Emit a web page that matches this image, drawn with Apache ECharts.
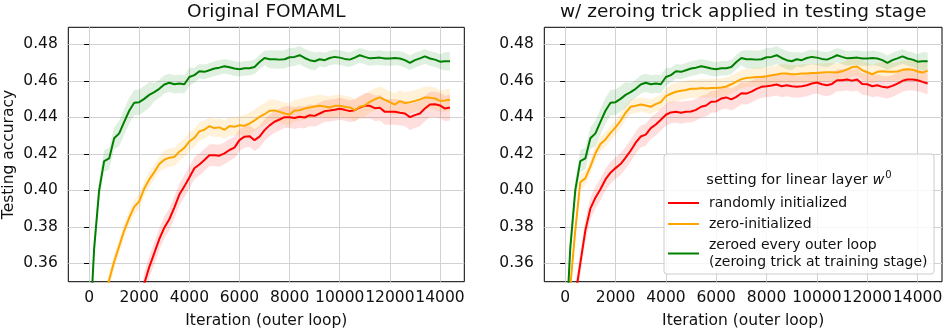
<!DOCTYPE html>
<html>
<head>
<meta charset="utf-8">
<script src="https://cdn.jsdelivr.net/npm/echarts@6/dist/echarts.min.js"></script>
<style>
html,body{margin:0;padding:0;background:#fff;}
#chart{width:946px;height:330px;}
</style>
</head>
<body>
<div id="chart"></div>
<script>
// ---------------- data ----------------
const iterations = [
  0,200,400,600,800,1000,1200,1400,1600,1800,
  2000,2200,2400,2600,2800,3000,3200,3400,3600,3800,
  4000,4200,4400,4600,4800,5000,5200,5400,5600,5800,
  6000,6200,6400,6600,6800,7000,7200,7400,7600,7800,
  8000,8200,8400,8600,8800,9000,9200,9400,9600,9800,
  10000,10200,10400,10600,10800,11000,11200,11400,11600,11800,
  12000,12200,12400,12600,12800,13000,13200,13400,13600,13800,
  14000,14200,14400
];
const xTickValues = [0,2000,4000,6000,8000,10000,12000,14000];
const yTickValues = [0.36,0.38,0.40,0.42,0.44,0.46,0.48];

const seriesNames = ['randomly initialized', 'zero-initialized',
  'zeroed every outer loop\n(zeroing trick at training stage)'];
const panelTitles = ['Original FOMAML', 'w/ zeroing trick applied in testing stage'];

// zeroed every outer loop (same model in both panels)
const zeroedEveryLoop = [
  0.314,0.368,0.400,0.416,0.4175,0.4285,0.4312,0.4375,0.4436,0.4480,
  0.4483,0.4501,0.4523,0.4538,0.4556,0.4580,0.4589,0.4581,0.4585,0.4581,
  0.4621,0.4631,0.4652,0.4649,0.4658,0.4667,0.4672,0.4680,0.4674,0.4667,
  0.4663,0.4669,0.4669,0.4676,0.4703,0.4725,0.4718,0.4718,0.4716,0.4718,
  0.4729,0.4731,0.4740,0.4725,0.4713,0.4707,0.4718,0.4713,0.4725,0.4731,
  0.4727,0.4720,0.4716,0.4727,0.4740,0.4731,0.4723,0.4725,0.4727,0.4722,
  0.4722,0.4725,0.4722,0.4713,0.4698,0.4713,0.4723,0.4734,0.4722,0.4716,
  0.4705,0.4707,0.4707
];
const zeroedEveryLoopSpread = [
  0.006,0.006,0.006,0.006,0.006,0.006,0.007,0.007,0.007,0.007,
  0.007,0.007,0.007,0.005,0.005,0.005,0.005,0.005,0.005,0.005,
  0.005,0.004,0.004,0.004,0.004,0.004,0.004,0.004,0.004,0.004,
  0.004,0.004,0.004,0.004,0.004,0.004,0.005,0.005,0.005,0.005,
  0.005,0.005,0.005,0.005,0.005,0.005,0.004,0.004,0.004,0.004,
  0.004,0.004,0.004,0.004,0.004,0.004,0.004,0.004,0.004,0.004,
  0.004,0.004,0.004,0.004,0.004,0.004,0.004,0.004,0.004,0.004,
  0.004,0.005,0.005
];

// left panel (original FOMAML)
const leftZeroInit = [
  null,null,null,0.341,0.351,0.361,0.3695,0.378,0.385,0.391,
  0.394,0.401,0.406,0.410,0.4144,0.4168,0.4179,0.4183,0.4212,0.4233,
  0.4268,0.4288,0.4323,0.4332,0.4352,0.4341,0.4345,0.4332,0.4352,0.4348,
  0.4357,0.4354,0.4366,0.4383,0.4403,0.4417,0.4436,0.4438,0.4430,0.4421,
  0.4416,0.4438,0.4439,0.4448,0.4454,0.4459,0.4463,0.4459,0.4454,0.4463,
  0.4463,0.4458,0.4454,0.4439,0.4458,0.4465,0.4485,0.4498,0.4509,0.4496,
  0.4483,0.4470,0.4489,0.4478,0.4483,0.4490,0.4498,0.4509,0.4507,0.4503,
  0.4490,0.4492,0.4496
];
const leftZeroInitSpread = [
  0.004,0.004,0.004,0.004,0.004,0.004,0.004,0.004,0.004,0.004,
  0.004,0.004,0.004,0.004,0.004,0.005,0.005,0.005,0.005,0.005,
  0.005,0.005,0.005,0.005,0.005,0.005,0.005,0.005,0.005,0.005,
  0.005,0.006,0.006,0.006,0.006,0.006,0.006,0.006,0.006,0.006,
  0.006,0.006,0.006,0.006,0.006,0.006,0.006,0.006,0.006,0.006,
  0.006,0.006,0.006,0.006,0.006,0.006,0.006,0.006,0.006,0.006,
  0.006,0.006,0.006,0.006,0.006,0.006,0.006,0.006,0.006,0.006,
  0.006,0.006,0.006
];
const leftRandomInit = [
  null,null,null,null,null,null,null,null,null,null,
  0.330,0.349,0.358,0.3656,0.3733,0.3796,0.3842,0.3906,0.3977,0.4022,
  0.4071,0.4121,0.4142,0.4166,0.4192,0.4193,0.4190,0.4203,0.4221,0.4234,
  0.4275,0.4294,0.4297,0.4275,0.4294,0.4330,0.4356,0.4376,0.4388,0.4401,
  0.4401,0.4396,0.4403,0.4399,0.4412,0.4408,0.4421,0.4434,0.4437,0.4441,
  0.4447,0.4441,0.4434,0.4439,0.4454,0.4463,0.4463,0.4450,0.4452,0.4430,
  0.4430,0.4430,0.4425,0.4421,0.4401,0.4412,0.4421,0.4448,0.4470,0.4472,
  0.4465,0.4448,0.4454
];
const leftRandomInitSpread = [
  0.006,0.006,0.006,0.006,0.006,0.006,0.006,0.006,0.006,0.006,
  0.006,0.006,0.006,0.006,0.006,0.006,0.006,0.006,0.006,0.006,
  0.006,0.006,0.006,0.006,0.006,0.006,0.006,0.006,0.006,0.006,
  0.006,0.006,0.006,0.006,0.006,0.006,0.006,0.006,0.006,0.006,
  0.006,0.006,0.006,0.006,0.006,0.006,0.006,0.006,0.006,0.006,
  0.006,0.006,0.006,0.006,0.006,0.007,0.007,0.007,0.007,0.007,
  0.007,0.007,0.007,0.007,0.007,0.007,0.007,0.007,0.007,0.007,
  0.007,0.007,0.007
];

// right panel (zeroing trick applied in testing stage)
const rightZeroInit = [
  null,0.347,0.378,0.4045,0.4066,0.4130,0.4203,0.4254,0.4279,0.4315,
  0.4345,0.4381,0.4425,0.4458,0.4463,0.4470,0.4465,0.4458,0.4472,0.4483,
  0.4516,0.4529,0.4540,0.4545,0.4550,0.4556,0.4556,0.4560,0.4558,0.4560,
  0.4561,0.4563,0.4569,0.4581,0.4596,0.4609,0.4616,0.4618,0.4621,0.4621,
  0.4625,0.4630,0.4634,0.4640,0.4640,0.4636,0.4636,0.4640,0.4640,0.4643,
  0.4643,0.4645,0.4647,0.4647,0.4645,0.4652,0.4663,0.4674,0.4678,0.4658,
  0.4647,0.4636,0.4649,0.4652,0.4649,0.4649,0.4651,0.4660,0.4663,0.4661,
  0.4651,0.4645,0.4656
];
const rightZeroInitSpread = [
  0.004,0.004,0.004,0.004,0.004,0.004,0.004,0.004,0.004,0.004,
  0.004,0.004,0.004,0.004,0.004,0.004,0.004,0.004,0.004,0.004,
  0.004,0.005,0.005,0.005,0.005,0.005,0.005,0.005,0.005,0.005,
  0.005,0.005,0.005,0.005,0.005,0.005,0.005,0.005,0.005,0.005,
  0.005,0.005,0.005,0.005,0.005,0.005,0.005,0.005,0.005,0.005,
  0.005,0.005,0.005,0.005,0.005,0.005,0.005,0.005,0.005,0.005,
  0.005,0.005,0.005,0.005,0.005,0.005,0.005,0.005,0.005,0.005,
  0.005,0.005,0.005
];
const rightRandomInit = [
  null,null,0.342,0.360,0.378,0.390,0.396,0.4006,0.4060,0.4097,
  0.4122,0.4144,0.4179,0.4217,0.4261,0.4295,0.4305,0.4341,0.4361,0.4387,
  0.4414,0.4427,0.4430,0.4425,0.4430,0.4432,0.4441,0.4458,0.4465,0.4485,
  0.4487,0.4503,0.4509,0.4498,0.4512,0.4532,0.4530,0.4541,0.4556,0.4567,
  0.4570,0.4574,0.4580,0.4570,0.4576,0.4570,0.4567,0.4570,0.4576,0.4585,
  0.4591,0.4581,0.4576,0.4583,0.4603,0.4603,0.4607,0.4601,0.4607,0.4583,
  0.4581,0.4570,0.4576,0.4567,0.4563,0.4572,0.4585,0.4600,0.4607,0.4607,
  0.4603,0.4594,0.4585
];
const rightRandomInitSpread = [
  0.006,0.006,0.006,0.006,0.006,0.006,0.006,0.006,0.006,0.006,
  0.006,0.006,0.006,0.006,0.006,0.006,0.006,0.006,0.006,0.006,
  0.006,0.006,0.006,0.006,0.006,0.006,0.006,0.006,0.006,0.006,
  0.006,0.006,0.006,0.006,0.006,0.006,0.006,0.006,0.006,0.006,
  0.006,0.006,0.006,0.006,0.006,0.006,0.006,0.006,0.006,0.006,
  0.006,0.006,0.006,0.006,0.006,0.006,0.006,0.006,0.006,0.006,
  0.006,0.006,0.006,0.006,0.006,0.006,0.006,0.006,0.006,0.006,
  0.006,0.006,0.006
];

// ---------------- styling / layout ----------------
const FONT = 'DejaVu Sans';
const TEXT = '#111111';
const LINE_COLORS = ['#ff0000', '#ffa500', '#008000'];
const BAND_COLORS = ['rgba(255,0,0,0.13)', 'rgba(255,165,0,0.15)', 'rgba(0,128,0,0.12)'];
const X_RANGE = [-830, 14970];
const Y_RANGE = [0.35, 0.4893];
const grids = [
  { left: 68.3, top: 27.3, width: 396, height: 254.4 },
  { left: 544.3, top: 27.3, width: 397.7, height: 254.4 }
];
const panelData = [
  [[leftRandomInit, leftRandomInitSpread], [leftZeroInit, leftZeroInitSpread], [zeroedEveryLoop, zeroedEveryLoopSpread]],
  [[rightRandomInit, rightRandomInitSpread], [rightZeroInit, rightZeroInitSpread], [zeroedEveryLoop, zeroedEveryLoopSpread]]
];

function bandSeries(panel, mean, spread, color) {
  const firstIdx = mean.findIndex(v => v != null);
  return {
    type: 'custom', name: 'band', xAxisIndex: panel, yAxisIndex: panel,
    silent: true, z: 1, animation: false,
    data: [[iterations[firstIdx], mean[firstIdx]]],
    encode: { x: 0, y: 1 },
    renderItem: function (params, api) {
      const up = [], lo = [];
      for (let i = 0; i < iterations.length; i++) {
        if (mean[i] == null) continue;
        up.push(api.coord([iterations[i], mean[i] + spread[i]]));
        lo.push(api.coord([iterations[i], mean[i] - spread[i]]));
      }
      const cs = params.coordSys;
      return {
        type: 'polygon',
        shape: { points: up.concat(lo.reverse()) },
        style: { fill: color, stroke: null },
        clipPath: { type: 'rect', shape: { x: cs.x, y: cs.y, width: cs.width, height: cs.height } }
      };
    }
  };
}

function lineSeries(panel, k, mean) {
  return {
    type: 'line', name: seriesNames[k], xAxisIndex: panel, yAxisIndex: panel,
    data: iterations.map((x, i) => [x, mean[i]]),
    showSymbol: false, symbol: 'none', z: 3, clip: true,
    lineStyle: { color: LINE_COLORS[k], width: 2 },
    itemStyle: { color: LINE_COLORS[k] },
    emphasis: { disabled: true }
  };
}

const series = [];
for (let p = 0; p < 2; p++) {
  for (let k = 0; k < 3; k++) series.push(bandSeries(p, panelData[p][k][0], panelData[p][k][1], BAND_COLORS[k]));
  for (let k = 0; k < 3; k++) series.push(lineSeries(p, k, panelData[p][k][0]));
}

const xAxes = grids.map((g, p) => ({
  type: 'value', gridIndex: p, min: X_RANGE[0], max: X_RANGE[1], splitNumber: 8,
  axisLine: { show: false },
  axisTick: { show: false, customValues: xTickValues },
  axisLabel: { customValues: xTickValues, color: TEXT, fontFamily: FONT, fontSize: 15.5, margin: 8,
               showMinLabel: true, showMaxLabel: true, hideOverlap: false,
               formatter: v => String(Math.round(v)) },
  splitLine: { show: true, lineStyle: { color: '#d2d2d2', width: 1 } }
}));
const yAxes = grids.map((g, p) => ({
  type: 'value', gridIndex: p, min: Y_RANGE[0], max: Y_RANGE[1], splitNumber: 7,
  axisLine: { show: false },
  axisTick: { show: true, inside: false, length: 5, customValues: yTickValues, lineStyle: { color: '#000', width: 1 } },
  axisLabel: { customValues: yTickValues, color: TEXT, fontFamily: FONT, fontSize: 15.5, margin: 10.5,
               showMinLabel: true, showMaxLabel: true,
               formatter: v => v.toFixed(2) },
  splitLine: { show: true, lineStyle: { color: '#d2d2d2', width: 1 } }
}));

const graphics = [];
grids.forEach((g, p) => {
  const cx = g.left + g.width / 2;
  graphics.push({ type: 'text', x: cx, y: 12.5, silent: true,
    style: { text: panelTitles[p], fill: TEXT, font: '18.5px "' + FONT + '"', textAlign: 'center', textVerticalAlign: 'middle' } });
  graphics.push({ type: 'text', x: cx, y: 320.5, silent: true,
    style: { text: 'Iteration (outer loop)', fill: TEXT, font: '15.5px "' + FONT + '"', textAlign: 'center', textVerticalAlign: 'middle' } });
});
graphics.push({ type: 'text', x: 8.5, y: 154.5, rotation: Math.PI / 2, silent: true,
  style: { text: 'Testing accuracy', fill: TEXT, font: '15.5px "' + FONT + '"', textAlign: 'center', textVerticalAlign: 'middle' } });
// legend frame and legend title
graphics.push({ type: 'rect', z: 50, silent: true,
  shape: { x: 664, y: 154, width: 270, height: 120, r: 3 },
  style: { fill: 'rgba(255,255,255,0.82)', stroke: '#cccccc', lineWidth: 1 } });
graphics.push({ type: 'text', z: 51, x: 799, y: 180, silent: true,
  style: {
    text: '{a|setting for linear layer }{w|w}{s|0}',
    textAlign: 'center', textVerticalAlign: 'middle',
    rich: {
      a: { fontFamily: FONT, fontSize: 14.5, fill: TEXT, color: TEXT },
      w: { fontFamily: FONT, fontSize: 14.5, fontStyle: 'italic', fill: TEXT, color: TEXT },
      s: { fontFamily: FONT, fontSize: 10, fill: TEXT, color: TEXT, padding: [0, 0, 9, 1] }
    }
  } });

const option = {
  animation: false,
  backgroundColor: '#ffffff',
  textStyle: { fontFamily: FONT, color: TEXT },
  grid: grids.map(g => Object.assign({ show: true, borderColor: '#000', borderWidth: 1, backgroundColor: 'transparent', containLabel: false }, g)),
  xAxis: xAxes,
  yAxis: yAxes,
  legend: {
    data: seriesNames, orient: 'vertical', left: 668, top: 194.5, padding: 0,
    itemWidth: 31, itemHeight: 2, itemGap: 4, icon: 'rect', z: 60,
    selectedMode: false,
    textStyle: { fontFamily: FONT, fontSize: 14, color: TEXT, lineHeight: 17, padding: [0, 0, 0, 5] }
  },
  graphic: graphics,
  series: series
};

const chart = echarts.init(document.getElementById('chart'), null, { renderer: 'canvas' });
chart.setOption(option);
</script>
</body>
</html>
